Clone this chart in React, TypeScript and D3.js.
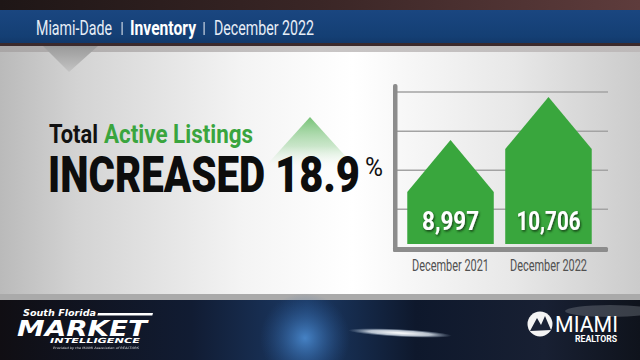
import React from "react";
import * as d3 from "d3";

const categories = ["December 2021", "December 2022"];
const listings = [8997, 10706];
const gridTicks = [6250, 7800, 9350, 10900];
const headerParts = ["Miami-Dade", "Inventory", "December 2022"];
const changePct = "18.9";

const W = 640;
const H = 360;

export default function App() {
  const x = d3
    .scaleBand<string>()
    .domain(categories)
    .range([401, 598])
    .paddingInner(0.117)
    .paddingOuter(0.064);
  const y = d3.scaleLinear().domain([4870, 10706]).range([244, 97]);
  const base = 244;
  const roof = 52;
  const fmt = d3.format(",");

  const barPath = (v: number, c: string) => {
    const x0 = x(c)!;
    const x1 = x0 + x.bandwidth();
    const xc = (x0 + x1) / 2;
    const peak = y(v);
    const p = d3.path();
    p.moveTo(x0, base);
    p.lineTo(x0, peak + roof);
    p.lineTo(xc, peak);
    p.lineTo(x1, peak + roof);
    p.lineTo(x1, base);
    p.closePath();
    return p.toString();
  };

  const font = "Roboto, 'DejaVu Sans', sans-serif";

  return (
    <svg
      width={W}
      height={H}
      style={{ position: "absolute", left: 0, top: 0, display: "block" }}
      xmlns="http://www.w3.org/2000/svg"
    >
      <defs>
        <linearGradient id="topStrip" x1="0" x2="1" y1="0" y2="0">
          <stop offset="0" stopColor="#1e1616" />
          <stop offset="0.5" stopColor="#3a2626" />
          <stop offset="1" stopColor="#5e3c3c" />
        </linearGradient>
        <linearGradient id="blueBar" x1="0" x2="0" y1="0" y2="1">
          <stop offset="0" stopColor="#1a4680" />
          <stop offset="0.8" stopColor="#143f74" />
          <stop offset="1" stopColor="#12386a" />
        </linearGradient>
        <linearGradient id="panel" x1="0" x2="1" y1="0" y2="0">
          <stop offset="0" stopColor="#bababa" />
          <stop offset="0.12" stopColor="#d3d3d3" />
          <stop offset="0.38" stopColor="#f4f4f4" />
          <stop offset="0.55" stopColor="#ffffff" />
          <stop offset="0.8" stopColor="#e8e8e8" />
          <stop offset="1" stopColor="#cbcbcb" />
        </linearGradient>
        <linearGradient id="greyStrip" x1="0" x2="1" y1="0" y2="0">
          <stop offset="0" stopColor="#a9a6a6" />
          <stop offset="0.5" stopColor="#c9c6c6" />
          <stop offset="1" stopColor="#bdb9b9" />
        </linearGradient>
        <linearGradient id="pointer" x1="0" x2="0" y1="0" y2="1">
          <stop offset="0" stopColor="#9a9a9a" />
          <stop offset="1" stopColor="#c4c4c4" />
        </linearGradient>
        <linearGradient id="greenTri" x1="0" x2="0" y1="0" y2="1">
          <stop offset="0" stopColor="#6fbf6f" stopOpacity="0.95" />
          <stop offset="0.55" stopColor="#a9d8a9" stopOpacity="0.6" />
          <stop offset="1" stopColor="#ffffff" stopOpacity="0" />
        </linearGradient>
        <linearGradient id="footer" x1="0" x2="1" y1="0" y2="0">
          <stop offset="0" stopColor="#100e13" />
          <stop offset="0.3" stopColor="#111c33" />
          <stop offset="0.48" stopColor="#1b3964" />
          <stop offset="0.65" stopColor="#0e182c" />
          <stop offset="0.85" stopColor="#182033" />
          <stop offset="1" stopColor="#0f131c" />
        </linearGradient>
        <radialGradient id="glow" cx="0.5" cy="0.5" r="0.5">
          <stop offset="0" stopColor="#4d8fd6" stopOpacity="0.85" />
          <stop offset="1" stopColor="#2a5a9a" stopOpacity="0" />
        </radialGradient>
        <radialGradient id="streak" cx="0.5" cy="0.5" r="0.5">
          <stop offset="0" stopColor="#ffffff" stopOpacity="1" />
          <stop offset="0.6" stopColor="#dfe8f2" stopOpacity="0.8" />
          <stop offset="1" stopColor="#9fb4cc" stopOpacity="0" />
        </radialGradient>
        <filter id="shadow" x="-20%" y="-20%" width="140%" height="160%">
          <feDropShadow dx="1" dy="1.5" stdDeviation="1" floodColor="#0b2a0b" floodOpacity="0.85" />
        </filter>
      </defs>

      {/* background panel */}
      <rect x={0} y={0} width={W} height={H} fill="url(#panel)" />
      <rect x={0} y={0} width={W} height={11} fill="url(#topStrip)" />
      <rect x={0} y={10} width={W} height={33} fill="url(#blueBar)" />
      <rect x={0} y={43} width={W} height={3} fill="#3b2a2c" />
      <rect x={0} y={46} width={W} height={6} fill="url(#greyStrip)" />
      <path d="M43,46 L98,46 L69,72 Z" fill="url(#pointer)" />

      {/* header text */}
      <g fontFamily={font} fill="#e6edf6" fontSize={20}>
        <text x={36} y={35} textLength={76} lengthAdjust="spacingAndGlyphs">
          {headerParts[0]}
        </text>
        <rect x={121.5} y={22} width={1.2} height={13} fill="#c9d4e2" />
        <text x={130} y={35} fontWeight="bold" fill="#ffffff" textLength={66} lengthAdjust="spacingAndGlyphs">
          {headerParts[1]}
        </text>
        <rect x={203.5} y={22} width={1.2} height={13} fill="#c9d4e2" />
        <text x={214} y={35} textLength={100} lengthAdjust="spacingAndGlyphs">
          {headerParts[2]}
        </text>
      </g>

      {/* headline */}
      <path d="M262,170 L310,117 L358,170 Z" fill="url(#greenTri)" />
      <g fontFamily={font} fontWeight="bold">
        <text x={49} y={143} fontSize={26} fill="#111111" textLength={49} lengthAdjust="spacingAndGlyphs">
          Total
        </text>
        <text x={104} y={143} fontSize={26} fill="#3aa53e" textLength={149} lengthAdjust="spacingAndGlyphs">
          Active Listings
        </text>
        <text x={48} y={192} fontSize={50} fontWeight={900} fill="#0d0d0d" textLength={217} lengthAdjust="spacingAndGlyphs">
          INCREASED
        </text>
        <text x={275} y={192} fontSize={50} fontWeight={900} fill="#0d0d0d" textLength={85} lengthAdjust="spacingAndGlyphs">
          {changePct}
        </text>
        <text x={365} y={176} fontSize={25} fontWeight="normal" fill="#111111" textLength={18} lengthAdjust="spacingAndGlyphs">
          %
        </text>
      </g>

      {/* chart gridlines */}
      <g>
        {gridTicks.map((t) => (
          <line key={t} x1={397} x2={608} y1={y(t)} y2={y(t)} stroke="#a3a3a3" strokeWidth={1.5} />
        ))}
      </g>
      {/* axes */}
      <rect x={393} y={84} width={4.5} height={168} rx={2} fill="#8c8c8c" />
      <rect x={393} y={247} width={215} height={5} rx={1.5} fill="#8c8c8c" />

      {/* bars */}
      {categories.map((c, i) => (
        <path key={c} d={barPath(listings[i], c)} fill="#39a63d" />
      ))}
      {categories.map((c, i) => (
        <text
          key={c + "v"}
          x={x(c)! + x.bandwidth() / 2}
          y={230}
          textAnchor="middle"
          fontFamily={font}
          fontWeight="bold"
          fontSize={26}
          fill="#ffffff"
          filter="url(#shadow)"
          textLength={i === 0 ? 57 : 64}
          lengthAdjust="spacingAndGlyphs"
        >
          {fmt(listings[i])}
        </text>
      ))}
      {categories.map((c) => (
        <text
          key={c + "l"}
          x={x(c)! + x.bandwidth() / 2}
          y={271}
          textAnchor="middle"
          fontFamily={font}
          fontSize={16}
          fill="#505050"
          textLength={77}
          lengthAdjust="spacingAndGlyphs"
        >
          {c}
        </text>
      ))}

      {/* footer */}
      <rect x={0} y={294} width={W} height={6} fill="#aaaaaa" />
      <rect x={0} y={300} width={W} height={60} fill="url(#footer)" />
      <ellipse cx={305} cy={338} rx={45} ry={45} fill="url(#glow)" />
      <ellipse cx={400} cy={333} rx={52} ry={4} fill="url(#streak)" transform="rotate(3 400 333)" />
      <ellipse cx={610} cy={311} rx={45} ry={6} fill="#8a8f99" opacity={0.35} />

      {/* left logo */}
      <g fontFamily="'DejaVu Sans', sans-serif" fill="#ffffff" fontStyle="italic" fontWeight="bold">
        <text x={23} y={316} fontSize={8.5} textLength={73} lengthAdjust="spacingAndGlyphs">
          South Florida
        </text>
        <path d="M98,313 L153,313 L152.3,315.5 L97.3,315.5 Z" fill="#ffffff" />
        <text x={17} y={336} fontSize={21} textLength={130} lengthAdjust="spacingAndGlyphs">
          MARKET
        </text>
        <text x={50} y={343} fontSize={7} textLength={90} lengthAdjust="spacingAndGlyphs">
          INTELLIGENCE
        </text>
        <text x={53} y={348.5} fontSize={3} fontWeight="normal" textLength={86} lengthAdjust="spacingAndGlyphs" opacity={0.8}>
          Provided by the MIAMI Association of REALTORS
        </text>
      </g>

      {/* right logo */}
      <g fill="#ffffff">
        <circle cx={540} cy={324} r={12.5} fill="#f4f4f4" />
        <path d="M530,331 L537,318 L541,325 L545,316 L551,330 Z" fill="#1a2236" />
        <text x={555} y={332} fontFamily={font} fontSize={22} textLength={63} lengthAdjust="spacingAndGlyphs">
          MIAMI
        </text>
        <text x={575} y={342} fontFamily={font} fontSize={9} fontWeight="bold" textLength={42} lengthAdjust="spacingAndGlyphs">
          REALTORS
        </text>
      </g>
    </svg>
  );
}
